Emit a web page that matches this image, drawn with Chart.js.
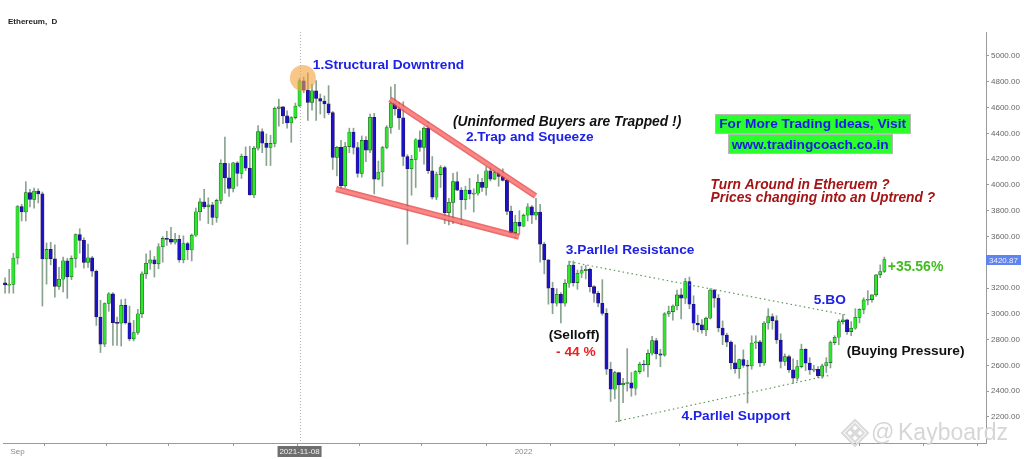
<!DOCTYPE html>
<html>
<head>
<meta charset="utf-8">
<title>Ethereum, D</title>
<script src="https://cdn.jsdelivr.net/npm/chart.js@4.4.1/dist/chart.umd.min.js"></script>
<style>
  html, body { margin: 0; padding: 0; background: #fff; overflow: hidden; }
  canvas { display: block; }
</style>
</head>
<body>
<canvas id="chart" width="1024" height="459"></canvas>
<script>
// daily candles from 2021-08-29 to 2022-03-29, one entry per day
const firstDay = Date.UTC(2021, 7, 29);
const emptyDaysRight = 24;

const openPrices = [
  3240, 3225, 3228,
  3433, 3832, 3790, 3940, 3888, 3952, 3930, 3425, 3500, 3427, 3213, 3268, 3412, 3287, 3430, 3614, 3570, 3398, 3435, 3330, 2975, 2765, 3080, 3155, 2932, 2928, 3065, 2930, 2806, 2855,
  3000, 3310, 3392, 3418, 3388, 3520, 3585, 3578, 3555, 3578, 3418, 3545, 3495, 3610, 3792, 3868, 3830, 3845, 3748, 3880, 4168, 4055, 3972, 4172, 4090, 4222, 4130, 3922, 4285, 4413, 4323,
  4290, 4322, 4594, 4605, 4535, 4480, 4522, 4612, 4808, 4735, 4640, 4730, 4670, 4650, 4628, 4560, 4214, 4292, 3994, 4297, 4410, 4290, 4090, 4345, 4270, 4525, 4045, 4100, 4290, 4445,
  4635, 4590, 4520, 4220, 4125, 4198, 4350, 4290, 4440, 4110, 3905, 4080, 4135, 3785, 3865, 4025, 3960, 3885, 3960, 3930, 3935, 4020, 3980, 4110, 4045, 4095, 4065, 4035, 3795, 3630, 3710,
  3680, 3765, 3830, 3765, 3790, 3540, 3418, 3198, 3082, 3152, 3082, 3237, 3379, 3242, 3315, 3335, 3346, 3211, 3159, 3082, 3004, 2570, 2415, 2544, 2449, 2462, 2465, 2423, 2552, 2609, 2605,
  2694, 2792, 2689, 2680, 2999, 3017, 3061, 3147, 3121, 3250, 3074, 2927, 2914, 2875, 2966, 3185, 3121, 2890, 2835, 2780, 2620, 2574, 2646, 2600, 2596, 2774, 2782, 2619,
  2929, 2978, 2947, 2797, 2630, 2668, 2565, 2500, 2591, 2725, 2617, 2565, 2570, 2518, 2596, 2622, 2777, 2818, 2940, 2953, 2862, 2888, 2973, 3035, 3108, 3110, 3147, 3302, 3328
];
const highPrices = [
  3280, 3345, 3470,
  3840, 3850, 4025, 3965, 3975, 3970, 3945, 3550, 3555, 3535, 3360, 3440, 3430, 3450, 3620, 3660, 3590, 3540, 3445, 3340, 3105, 3085, 3165, 3165, 2975, 3110, 3115, 3060, 2950, 3035,
  3325, 3465, 3490, 3445, 3545, 3600, 3640, 3670, 3625, 3610, 3605, 3555, 3620, 3820, 3895, 3965, 3900, 3865, 3890, 4195, 4370, 4165, 4175, 4180, 4240, 4295, 4300, 4300, 4460, 4435, 4395,
  4385, 4605, 4665, 4610, 4575, 4530, 4635, 4825, 4838, 4870, 4780, 4810, 4705, 4690, 4770, 4570, 4300, 4345, 4330, 4440, 4440, 4330, 4380, 4375, 4550, 4555, 4185, 4300, 4460, 4760,
  4780, 4640, 4645, 4235, 4230, 4360, 4420, 4450, 4490, 4220, 4100, 4150, 4145, 3895, 4090, 4100, 3980, 3990, 4050, 3970, 4080, 4050, 4140, 4150, 4130, 4115, 4125, 4045, 3835, 3765, 3800,
  3775, 3855, 3840, 3895, 3850, 3555, 3420, 3245, 3195, 3165, 3265, 3410, 3410, 3340, 3370, 3375, 3355, 3220, 3175, 3265, 3040, 2625, 2555, 2545, 2500, 2730, 2545, 2560, 2625, 2640, 2720,
  2825, 2810, 2725, 3010, 3060, 3070, 3185, 3195, 3275, 3285, 3140, 2990, 2955, 2975, 3195, 3190, 3150, 2945, 2850, 2790, 2760, 2650, 2720, 2640, 2830, 2830, 2795, 2940,
  3040, 3000, 2985, 2845, 2690, 2680, 2650, 2640, 2765, 2730, 2660, 2600, 2590, 2610, 2660, 2790, 2830, 2955, 2995, 2960, 2940, 3040, 3040, 3125, 3180, 3150, 3305, 3380, 3440
];
const lowPrices = [
  3160, 3160, 3160,
  3385, 3720, 3720, 3830, 3820, 3860, 3060, 3230, 3380, 3130, 3190, 3170, 3120, 3265, 3360, 3470, 3355, 3360, 3290, 2910, 2700, 2745, 3020, 2755, 2755, 2750, 2920, 2790, 2790, 2840,
  2970, 3275, 3345, 3285, 3350, 3400, 3530, 3540, 3540, 3400, 3395, 3420, 3410, 3600, 3725, 3815, 3700, 3690, 3710, 3855, 3935, 3910, 3945, 3990, 4050, 4110, 3920, 3900, 4270, 4250, 4150,
  4150, 4295, 4455, 4475, 4440, 4330, 4510, 4605, 4715, 4500, 4580, 4500, 4550, 4520, 4545, 4120, 4070, 3970, 3980, 4250, 4240, 4060, 4060, 4180, 4250, 3930, 4040, 3990, 4280, 4400,
  4540, 4430, 4150, 3540, 3920, 3980, 4260, 4160, 4090, 3890, 3885, 3980, 3700, 3690, 3700, 3955, 3690, 3810, 3890, 3790, 3920, 3950, 3920, 4030, 4040, 3990, 4030, 3770, 3610, 3590, 3620,
  3675, 3720, 3700, 3730, 3400, 3310, 3075, 3000, 3060, 2930, 3060, 3205, 3215, 3190, 3280, 3270, 3170, 3090, 3055, 2990, 2530, 2320, 2340, 2164, 2310, 2400, 2360, 2370, 2535, 2555, 2510,
  2680, 2650, 2590, 2670, 2980, 2950, 3030, 2960, 3080, 3040, 2875, 2860, 2850, 2830, 2960, 3050, 2860, 2760, 2745, 2570, 2540, 2500, 2585, 2309, 2570, 2730, 2590, 2600,
  2880, 2880, 2770, 2580, 2600, 2545, 2460, 2480, 2580, 2560, 2530, 2550, 2505, 2500, 2545, 2580, 2760, 2760, 2920, 2840, 2830, 2880, 2930, 3000, 3070, 3090, 3135, 3280, 3320
];
const closePrices = [
  3225, 3228, 3433,
  3832, 3790, 3940, 3888, 3952, 3930, 3425, 3500, 3427, 3213, 3268, 3412, 3287, 3430, 3614, 3570, 3398, 3435, 3330, 2975, 2765, 3080, 3155, 2932, 2928, 3065, 2930, 2806, 2855, 3000,
  3310, 3392, 3418, 3388, 3520, 3585, 3578, 3555, 3578, 3418, 3545, 3495, 3610, 3792, 3868, 3830, 3845, 3748, 3880, 4168, 4055, 3972, 4172, 4090, 4222, 4130, 3922, 4285, 4413, 4323, 4290,
  4322, 4594, 4605, 4535, 4480, 4522, 4612, 4808, 4735, 4640, 4730, 4670, 4650, 4628, 4560, 4214, 4292, 3994, 4297, 4410, 4290, 4090, 4345, 4270, 4525, 4045, 4100, 4290, 4445, 4635,
  4590, 4520, 4220, 4125, 4198, 4350, 4290, 4440, 4110, 3905, 4080, 4135, 3785, 3865, 4025, 3960, 3885, 3960, 3930, 3935, 4020, 3980, 4110, 4045, 4095, 4065, 4035, 3795, 3630, 3710, 3680,
  3765, 3830, 3765, 3790, 3540, 3418, 3198, 3082, 3152, 3082, 3237, 3379, 3242, 3315, 3335, 3346, 3211, 3159, 3082, 3004, 2570, 2415, 2544, 2449, 2462, 2465, 2423, 2552, 2609, 2605, 2694,
  2792, 2689, 2680, 2999, 3017, 3061, 3147, 3121, 3250, 3074, 2927, 2914, 2875, 2966, 3185, 3121, 2890, 2835, 2780, 2620, 2574, 2646, 2600, 2596, 2774, 2782, 2619, 2929,
  2978, 2947, 2797, 2630, 2668, 2565, 2500, 2591, 2725, 2617, 2565, 2570, 2518, 2596, 2622, 2777, 2818, 2940, 2953, 2862, 2888, 2973, 3035, 3108, 3110, 3147, 3302, 3328, 3420.87
];

const priceTicks = [2200, 2400, 2600, 2800, 3000, 3200, 3400, 3600, 3800, 4000, 4200, 4400, 4600, 4800, 5000];
const namedTickDates = ['2021-09-01', '2022-01-01'];
const namedTickText = ['Sep', '2022'];
const crosshairDate = '2021-11-08';

const dayLabels = [];
for (let k = 0; k < closePrices.length + emptyDaysRight; k++) {
  dayLabels.push(new Date(firstDay + k * 86400000).toISOString().slice(0, 10));
}

// bodies: floating bars, dojis get a one pixel body
const bodies = openPrices.map((o, k) => {
  const c = closePrices[k];
  if (Math.abs(c - o) >= 8) return [o, c];
  const mid = (o + c) / 2;
  return [mid - 4, mid + 4];
});
const isUp = openPrices.map((o, k) => closePrices[k] >= o);
const bodyFill = isUp.map(u => u ? '#2fe62f' : '#1a12c8');
const bodyEdge = isUp.map(u => u ? '#1d5a1d' : '#2a1050');

// annotations (index on the date axis, price)
const BLUE = '#1e22e6';
const notes = [
  { text: '1.Structural Downtrend', at: [74.2, 4930], color: BLUE, font: 'bold 13.7px' },
  { text: '(Uninformed Buyers are Trapped !)', at: [108, 4488], color: '#111', font: 'italic bold 13.8px' },
  { text: '2.Trap and Squeeze', at: [111.1, 4372], color: BLUE, font: 'bold 13.7px' },
  { text: 'Turn Around in Etheruem ?', at: [170.1, 3999], color: '#a51515', font: 'italic bold 13.8px' },
  { text: 'Prices changing into an Uptrend ?', at: [170.1, 3893], color: '#a51515', font: 'italic bold 13.8px' },
  { text: '3.Parllel Resistance', at: [135.2, 3495], color: BLUE, font: 'bold 13.7px' },
  { text: '(Selloff)', at: [137.2, 2836], color: '#111', font: 'bold 13.7px', align: 'center' },
  { text: '- 44 %', at: [137.6, 2704], color: '#ee2020', font: 'bold 13.7px', align: 'center' },
  { text: '4.Parllel Support', at: [163.1, 2208], color: BLUE, font: 'bold 13.7px' },
  { text: '5.BO', at: [195, 3108], color: BLUE, font: 'bold 13.7px' },
  { text: '(Buying Pressure)', at: [202.9, 2712], color: '#111', font: 'bold 13.7px' },
  { text: '+35.56%', at: [212.8, 3363], color: '#44bb22', font: 'bold 14px' }
];
const boxes = [
  { text: 'For More Trading Ideas, Visit', from: [171.2, 4550], to: [218.2, 4400] },
  { text: 'www.tradingcoach.co.in', from: [174.3, 4393], to: [213.9, 4245] }
];
const wedgeLines = [
  [[92.8, 4664], [127.9, 3914]],
  [[79.8, 3968], [123.9, 3598]]
];
const channelLines = [
  [[136.1, 3404], [202.8, 2991]],
  [[147.2, 2164], [199.2, 2526]]
];
const peakMark = { at: [71.8, 4829], radius: 13 };

const FONT = '"Liberation Sans", Arial, sans-serif';
Chart.defaults.font.family = FONT;

const overlay = {
  id: 'overlay',
  beforeDatasetsDraw(c) {
    const { ctx, chartArea, scales: { x } } = c;
    const cx = Math.round(x.getPixelForValue(dayLabels.indexOf(crosshairDate))) + 0.5;
    ctx.save();
    ctx.strokeStyle = '#b0b0b0';
    ctx.lineWidth = 1;
    ctx.setLineDash([1, 2]);
    ctx.beginPath();
    ctx.moveTo(cx, chartArea.top);
    ctx.lineTo(cx, chartArea.bottom);
    ctx.stroke();
    ctx.restore();
  },
  afterDatasetsDraw(c) {
    const { ctx, scales: { x, y } } = c;
    const px = p => [x.getPixelForValue(p[0]), y.getPixelForValue(p[1])];
    ctx.save();

    // wedge lines
    ctx.lineCap = 'butt';
    wedgeLines.forEach(([a, b]) => {
      const [x1, y1] = px(a), [x2, y2] = px(b);
      ctx.strokeStyle = 'rgba(225,60,60,0.75)';
      ctx.lineWidth = 6;
      ctx.beginPath(); ctx.moveTo(x1, y1); ctx.lineTo(x2, y2); ctx.stroke();
      ctx.strokeStyle = 'rgba(255,140,140,0.8)';
      ctx.lineWidth = 3;
      ctx.beginPath(); ctx.moveTo(x1, y1); ctx.lineTo(x2, y2); ctx.stroke();
    });

    // channel dotted lines
    ctx.strokeStyle = '#5f9a5f';
    ctx.lineWidth = 1.2;
    ctx.setLineDash([1.5, 3]);
    channelLines.forEach(([a, b]) => {
      const [x1, y1] = px(a), [x2, y2] = px(b);
      ctx.beginPath(); ctx.moveTo(x1, y1); ctx.lineTo(x2, y2); ctx.stroke();
    });
    ctx.setLineDash([]);

    // peak circle
    const [ox, oy] = px(peakMark.at);
    ctx.fillStyle = 'rgba(245,160,60,0.6)';
    ctx.beginPath(); ctx.arc(ox, oy, peakMark.radius, 0, Math.PI * 2); ctx.fill();

    // green boxes
    boxes.forEach(b => {
      const [x1, y1] = px(b.from), [x2, y2] = px(b.to);
      ctx.fillStyle = '#2bff2b';
      ctx.fillRect(x1, y1, x2 - x1, y2 - y1);
      ctx.strokeStyle = '#b8b8b8';
      ctx.lineWidth = 1;
      ctx.strokeRect(Math.round(x1) + 0.5, Math.round(y1) + 0.5, Math.round(x2 - x1), Math.round(y2 - y1));
      ctx.fillStyle = '#1a1ae6';
      ctx.font = 'bold 13.7px ' + FONT;
      ctx.textAlign = 'center';
      ctx.textBaseline = 'middle';
      ctx.fillText(b.text, (x1 + x2) / 2, (y1 + y2) / 2 + 1);
    });

    // texts
    notes.forEach(n => {
      const [tx, ty] = px(n.at);
      ctx.fillStyle = n.color;
      ctx.font = n.font + ' ' + FONT;
      ctx.textAlign = n.align || 'left';
      ctx.textBaseline = 'middle';
      ctx.fillText(n.text, tx, ty);
    });
    ctx.restore();
  },
  afterDraw(c) {
    const { ctx, chartArea, scales: { x, y } } = c;
    ctx.save();

    // title
    ctx.fillStyle = '#222';
    ctx.font = 'bold 8px ' + FONT;
    ctx.textAlign = 'left';
    ctx.textBaseline = 'middle';
    ctx.fillText('Ethereum,  D', 8, 22);

    // last price tag on the price axis
    const last = closePrices[closePrices.length - 1];
    const ly = Math.round(y.getPixelForValue(last));
    ctx.fillStyle = '#5f84ee';
    ctx.fillRect(chartArea.right, ly - 5, 35, 10);
    ctx.fillStyle = '#eef0ff';
    ctx.font = '8px ' + FONT;
    ctx.fillText(last.toFixed(2), chartArea.right + 3, ly + 0.5);

    // crosshair date tag
    const cx = x.getPixelForValue(dayLabels.indexOf(crosshairDate));
    ctx.fillStyle = '#6e6e6e';
    ctx.fillRect(cx - 22, chartArea.bottom + 3, 44, 11);
    ctx.fillStyle = '#f2f2f2';
    ctx.textAlign = 'center';
    ctx.fillText(crosshairDate, cx, chartArea.bottom + 9);

    // watermark
    const W = c.width, H = c.height;
    ctx.strokeStyle = '#dadada';
    ctx.lineWidth = 2;
    const lx = W - 169, lyy = H - 26;
    [[0, 0, 13], [-5, 0, 4], [5, 0, 4], [0, -5, 4], [0, 5, 4]].forEach(([dx, dy, r]) => {
      ctx.beginPath();
      ctx.moveTo(lx + dx, lyy + dy - r);
      ctx.lineTo(lx + dx + r, lyy + dy);
      ctx.lineTo(lx + dx, lyy + dy + r);
      ctx.lineTo(lx + dx - r, lyy + dy);
      ctx.closePath();
      ctx.stroke();
    });
    ctx.fillStyle = '#d6d6d6';
    ctx.font = '23px ' + FONT;
    ctx.textAlign = 'left';
    ctx.textBaseline = 'middle';
    ctx.fillText('@', W - 153, H - 25);
    ctx.fillText('Kayboardz', W - 126, H - 25);
    ctx.restore();
  }
};

new Chart(document.getElementById('chart'), {
  type: 'bar',
  data: {
    labels: dayLabels,
    datasets: [
      {
        label: 'range',
        data: lowPrices.map((l, k) => [l, highPrices[k]]),
        backgroundColor: '#8aa390',
        barThickness: 1,
        grouped: false,
        order: 2
      },
      {
        label: 'body',
        data: bodies,
        backgroundColor: bodyFill,
        borderColor: bodyEdge,
        borderWidth: 0.6,
        borderSkipped: false,
        barThickness: 3.3,
        grouped: false,
        order: 1
      }
    ]
  },
  options: {
    responsive: false,
    animation: false,
    layout: { padding: { top: 32, left: 3, right: 0, bottom: 0 } },
    plugins: { legend: { display: false }, tooltip: { enabled: false } },
    scales: {
      x: {
        type: 'category',
        offset: true,
        grid: { display: true, drawOnChartArea: false, tickLength: 3, color: '#9a9a9a' },
        border: { display: true, color: '#9a9a9a' },
        ticks: {
          autoSkip: false,
          maxRotation: 0,
          padding: 1,
          color: '#8a8a8a',
          font: { size: 8 },
          callback(v) {
            const k = namedTickDates.indexOf(dayLabels[v]);
            return k >= 0 ? namedTickText[k] : '';
          }
        },
        afterBuildTicks(s) {
          s.ticks = s.ticks.filter(t => /-(01|14)$/.test(dayLabels[t.value]));
        },
        afterFit(s) { s.height = 16; }
      },
      y: {
        position: 'right',
        bounds: 'data',
        min: 1998,
        max: 5186,
        grid: { display: true, drawOnChartArea: false, tickLength: 3, color: '#9a9a9a' },
        border: { display: true, color: '#9a9a9a' },
        ticks: { color: '#666', font: { size: 8 }, padding: 2, callback: v => Number(v).toFixed(2) },
        afterBuildTicks(s) { s.ticks = priceTicks.map(v => ({ value: v })); },
        afterFit(s) { s.width = 38; }
      }
    }
  },
  plugins: [overlay]
});
</script>
</body>
</html>
